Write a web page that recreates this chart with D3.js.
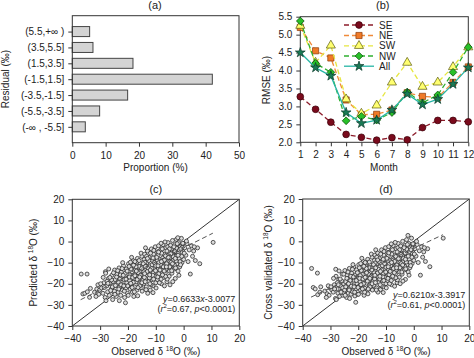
<!DOCTYPE html>
<html><head><meta charset="utf-8">
<script src="https://cdn.jsdelivr.net/npm/d3@7"></script>
<style>
html,body{margin:0;padding:0;background:#fff;}
svg text{font-family:"Liberation Sans",Arial,sans-serif;fill:#222;}
</style></head>
<body>
<svg id="chart" width="474" height="358"></svg>
<script>
// ---------- Panel (a) data ----------
const residualBins = ["(5.5,+\u221E )","(3.5,5.5]","(1.5,3.5]","(-1.5,1.5]","(-3.5,-1.5]","(-5.5,-3.5]","(-\u221E , -5.5]"];
const proportions = [5.2, 6.2, 18.2, 42.0, 16.6, 8.2, 3.9];
const proportionTicks = [0, 10, 20, 30, 40, 50];

// ---------- Panel (b) data ----------
const months = [1,2,3,4,5,6,7,8,9,10,11,12];
const rmseSE  = [3.27, 2.92, 2.56, 2.22, 2.14, 2.06, 2.13, 2.07, 2.41, 2.61, 2.61, 2.57];
const rmseNE  = [5.20, 4.55, 4.35, 3.18, 2.77, 2.78, 2.90, 3.38, 3.28, 3.25, 3.67, 4.10];
const rmseSW  = [5.25, 4.22, 4.70, 3.20, 2.80, 3.03, 3.67, 4.22, 3.55, 3.67, 4.10, 4.65];
const rmseNW  = [5.38, 4.20, 3.95, 2.60, 2.72, 2.62, 2.83, 3.40, 3.10, 3.32, 3.95, 4.65];
const rmseAll = [4.50, 4.08, 3.85, 2.83, 2.53, 2.62, 2.90, 3.35, 3.05, 3.20, 3.62, 4.08];
const regionNames = ["SE","NE","SW","NW","All"];
const rmseTicks = [2.0, 2.5, 3.0, 3.5, 4.0, 4.5, 5.0, 5.5];

// ---------- Panels (c),(d) data: [observed, predicted, cross-validated] ----------
const isotopeSamples = [
[-36.8,-15.4,-12.8],[-34.7,-15.4,-15.0],[-36.2,-24.8,-21.8],[-35.5,-24.5,-22.5],[-34.6,-23.8,-25.2],
[-33.5,-22.2,-21.5],[-33.8,-26.4,-24.0],[-32.0,-24.0,-23.5],[-31.2,-22.5,-24.8],[-30.5,-25.0,-25.5],
[-30.2,-23.0,-22.0],[-31.5,-26.0,-26.5],[-30.8,-20.5,-21.0],[-28.1,-14.3,-13.2],
[-29.5,-22.0,-23.0],[-29.0,-24.5,-24.0],[-28.6,-19.5,-20.5],[-28.2,-26.5,-27.0],[-28.0,-15.0,-16.5],
[-27.6,-21.0,-22.5],[-27.3,-23.8,-24.5],[-27.0,-17.5,-18.0],[-26.7,-25.5,-26.0],[-26.4,-20.0,-21.0],
[-26.0,-22.5,-23.5],[-25.8,-16.0,-15.5],[-25.5,-27.5,-25.5],[-25.3,-19.0,-20.0],[-25.1,-24.0,-24.5],
[-26.9,-13.0,-14.0],[-28.9,-17.0,-17.5],[-29.8,-20.0,-21.5],[-27.9,-28.0,-27.5],[-25.6,-21.5,-22.0],
[-24.8,-13.5,-13.8],[-24.6,-18.0,-19.0],[-24.4,-22.5,-23.2],[-24.2,-26.0,-26.5],[-24.0,-15.5,-16.0],
[-23.8,-20.0,-21.0],[-23.6,-24.0,-24.5],[-23.4,-17.0,-17.5],[-23.2,-12.5,-12.8],[-23.0,-21.5,-22.0],
[-22.8,-19.0,-19.8],[-22.6,-25.5,-25.0],[-22.4,-14.5,-15.0],[-22.2,-16.5,-17.2],[-22.0,-23.0,-23.8],
[-21.8,-20.5,-21.0],[-21.6,-11.5,-12.0],[-21.4,-18.0,-18.5],[-21.2,-26.5,-25.8],[-21.0,-15.0,-15.8],
[-20.8,-22.0,-22.5],[-20.6,-13.0,-13.5],[-20.4,-19.5,-20.0],[-20.2,-24.5,-25.0],[-20.0,-17.0,-17.5],
[-24.9,-23.5,-23.0],[-23.1,-28.0,-27.0],[-21.9,-10.0,-11.0],[-20.9,-29.0,-28.8],[-22.7,-15.8,-16.5],
[-19.8,-10.5,-11.0],[-19.6,-14.0,-14.8],[-19.4,-18.5,-19.0],[-19.2,-22.5,-23.0],[-19.0,-12.0,-12.5],
[-18.8,-16.0,-16.8],[-18.6,-20.0,-20.5],[-18.4,-24.0,-24.0],[-18.2,-9.0,-9.5],[-18.0,-13.5,-14.0],
[-17.8,-17.5,-18.0],[-17.6,-21.5,-22.2],[-17.4,-11.0,-11.5],[-17.2,-15.0,-15.5],[-17.0,-19.0,-19.8],
[-16.8,-23.0,-23.2],[-16.6,-8.0,-8.5],[-16.4,-12.5,-13.0],[-16.2,-16.5,-17.0],[-16.0,-20.5,-21.0],
[-15.8,-10.0,-10.8],[-15.6,-14.0,-14.5],[-15.4,-18.0,-18.5],[-15.2,-22.0,-22.5],[-15.0,-7.0,-7.5],
[-19.9,-25.5,-25.0],[-17.9,-26.0,-25.5],[-16.5,-25.7,-24.8],[-15.9,-11.8,-12.5],[-18.7,-7.5,-8.0],
[-19.3,-15.8,-16.2],[-17.3,-13.2,-13.8],[-16.1,-17.8,-18.5],[-15.3,-5.5,-6.0],[-18.1,-19.3,-20.0],
[-16.9,-9.8,-10.2],[-15.7,-21.0,-21.5],[-19.7,-20.8,-21.2],[-17.7,-23.8,-24.0],[-16.3,-14.8,-15.5],
[-14.8,-12.0,-12.5],[-14.6,-16.0,-16.5],[-14.4,-20.0,-20.8],[-14.2,-8.5,-9.0],[-14.0,-6.0,-6.5],
[-13.8,-13.5,-14.0],[-13.6,-17.5,-18.0],[-13.4,-21.5,-22.0],[-13.2,-10.0,-10.5],[-13.0,-4.5,-5.5],
[-12.8,-15.0,-15.5],[-12.6,-19.0,-19.5],[-12.4,-7.5,-8.0],[-12.2,-11.5,-12.0],[-12.0,-23.0,-22.8],
[-11.8,-14.0,-14.5],[-11.6,-3.5,-4.0],[-11.4,-18.0,-18.5],[-11.2,-9.0,-9.5],[-11.0,-21.0,-21.5],
[-10.8,-6.0,-6.5],[-10.6,-12.5,-13.0],[-10.4,-16.5,-17.0],[-10.2,-2.5,-3.0],[-10.0,-19.5,-20.0],
[-14.9,-23.5,-23.0],[-13.9,-9.8,-10.2],[-12.9,-24.5,-24.0],[-11.9,-5.5,-6.0],[-10.9,-14.8,-15.2],
[-14.3,-14.3,-14.8],[-13.3,-7.0,-7.5],[-12.3,-17.2,-17.8],[-11.3,-11.0,-11.5],[-10.3,-8.2,-8.8],
[-14.7,-18.5,-19.0],[-13.7,-3.0,-4.0],[-12.7,-12.8,-13.2],[-11.7,-20.5,-21.0],[-10.7,-4.2,-4.8],
[-11.0,-24.2,-24.2],[-13.5,-22.8,-23.0],
[-9.8,-10.5,-11.0],[-9.6,-14.5,-15.0],[-9.4,-18.0,-18.5],[-9.2,-6.5,-7.0],[-9.0,-2.0,-2.5],
[-8.8,-12.0,-12.5],[-8.6,-16.0,-16.5],[-8.4,-8.5,-9.0],[-8.2,-4.0,-4.5],[-8.0,-20.0,-20.5],
[-7.8,-13.5,-14.0],[-7.6,-10.0,-10.5],[-7.4,-1.5,-2.0],[-7.2,-17.0,-17.5],[-7.0,-6.0,-6.5],
[-6.8,-11.5,-12.0],[-6.6,-15.0,-15.5],[-6.4,-3.0,-3.5],[-6.2,-8.0,-8.5],[-6.0,-19.0,-19.5],
[-5.8,-12.5,-13.0],[-5.6,-0.5,-1.0],[-5.4,-5.0,-5.5],[-5.2,-16.5,-17.0],[-5.0,-9.5,-10.0],
[-9.9,-22.0,-22.0],[-9.3,-4.8,-5.2],[-8.7,-19.5,-20.0],[-8.1,-0.8,-1.2],[-7.5,-7.8,-8.2],
[-6.9,-21.0,-21.2],[-6.3,-13.0,-13.5],[-5.7,-2.5,-3.0],[-5.1,-14.0,-14.5],[-9.5,-9.0,-9.5],
[-8.9,-15.2,-15.8],[-8.3,-11.0,-11.5],[-7.7,-3.5,-4.0],[-7.1,-9.2,-9.8],[-6.5,-6.8,-7.2],
[-5.9,-17.8,-18.2],[-5.3,-11.0,-11.5],[-4.9,-20.5,-20.0],[-9.1,-13.0,-13.5],[-6.7,-0.2,-0.5],
[-4.8,-7.5,-8.0],[-4.6,-11.5,-12.0],[-4.4,-3.5,-4.0],[-4.2,-15.0,-15.5],[-4.0,0.5,0.0],
[-3.8,-9.0,-9.5],[-3.6,-5.5,-6.0],[-3.4,-13.0,-13.5],[-3.2,-1.5,-2.0],[-3.0,-17.5,-18.0],
[-2.8,-7.0,-7.5],[-2.6,1.0,0.8],[-2.4,-10.5,-11.0],[-2.2,-4.0,-4.5],[-2.0,-14.0,-14.5],
[-1.8,-0.5,-1.0],[-1.6,-8.0,-8.5],[-1.4,-12.0,-12.5],[-1.2,-2.5,-3.0],[-1.0,-6.0,-6.5],
[-0.8,1.5,1.5],[-0.6,-10.0,-10.5],[-0.4,-4.5,-5.0],[-0.2,-1.0,-1.5],[0.0,-8.5,-9.0],
[-4.7,-1.8,-2.2],[-3.9,-19.0,-18.8],[-3.3,-11.2,-11.8],[-2.5,-3.2,-3.8],[-1.7,-16.0,-16.0],
[-0.9,-5.0,-5.5],[-4.1,-6.2,-6.8],[-2.9,-12.5,-13.0],[-2.1,1.8,2.8],[-1.3,-9.5,-10.0],
[-0.5,-2.8,-3.2],[-3.5,-2.5,-3.0],[-1.9,-5.5,-6.0],
[0.4,-3.0,-3.5],[0.8,-6.5,-7.0],[1.2,-1.0,-1.5],[1.6,-9.5,-10.0],[2.0,-4.0,-4.5],
[2.4,-15.4,-16.0],[2.8,-2.0,-2.5],[3.2,-7.0,-7.5],[3.6,-4.5,-5.0],[4.2,-9.0,-9.5],
[5.0,-3.0,-3.5],[5.8,-10.5,-12.0],[1.0,0.2,0.0],[10.6,-0.4,1.5],[3.8,-2.5,-3.0],
[-27.5,-18.8,-19.5],[-26.2,-23.2,-24.0],[-25.9,-18.2,-18.8],[-25.2,-14.8,-15.5],[-24.5,-20.8,-21.5],
[-24.1,-16.8,-17.5],[-23.7,-13.8,-14.5],[-23.3,-22.5,-23.0],[-22.9,-17.8,-18.5],[-22.5,-20.5,-21.2],
[-22.1,-12.8,-13.2],[-21.7,-16.0,-16.8],[-21.3,-23.5,-24.0],[-20.7,-17.8,-18.5],[-20.3,-14.0,-14.8],
[-20.1,-21.0,-21.8],[-19.5,-16.8,-17.5],[-19.1,-9.8,-10.5],[-18.9,-13.0,-13.8],[-18.5,-21.8,-22.5],
[-18.3,-17.0,-17.8],[-17.5,-9.5,-10.0],[-17.1,-12.0,-12.8],[-16.7,-18.0,-18.8],[-16.4,-21.8,-22.5],
[-15.5,-16.0,-16.8],[-15.1,-12.8,-13.5],[-14.5,-10.5,-11.0],[-14.1,-17.0,-17.8],[-13.7,-11.8,-12.5],
[-13.1,-14.2,-15.0],[-12.5,-9.0,-9.5],[-12.1,-20.0,-20.5],[-11.5,-12.8,-13.5],[-11.1,-16.0,-16.8],
[-10.5,-10.0,-10.5],[-10.1,-13.8,-14.5],[-9.7,-7.5,-8.0],[-9.3,-16.8,-17.5],[-8.9,-10.0,-10.8],
[-8.5,-13.5,-14.2],[-8.1,-17.8,-18.5],[-7.9,-5.5,-6.0],[-7.3,-12.0,-12.8],[-6.9,-8.8,-9.5],
[-6.5,-16.5,-17.2],[-6.1,-10.5,-11.2],[-5.5,-7.5,-8.2],[-5.1,-3.5,-4.0],[-4.5,-9.8,-10.5],
[-4.3,-13.8,-14.5],[-3.7,-7.2,-8.0],[-3.1,-4.8,-5.5],[-2.7,-9.2,-9.8],[-2.3,-1.0,-1.5],
[-1.5,-4.0,-4.8],[-1.1,-11.0,-11.5],[-0.7,-7.0,-7.5],[-0.3,-0.8,-1.2],[0.2,-5.5,-6.0],
[-26.5,-17.0,-17.8],[-24.7,-25.0,-25.5],[-23.5,-19.2,-20.0],[-21.5,-21.0,-21.5],[-19.6,-11.8,-12.5],
[-18.0,-11.2,-11.8],[-17.0,-14.0,-14.8],[-16.0,-9.0,-9.8],[-15.0,-19.5,-20.0],[-14.0,-15.2,-16.0],
[-13.0,-8.0,-8.8],[-12.0,-13.5,-14.2],[-11.0,-7.8,-8.5],[-10.0,-11.5,-12.2],[-9.0,-5.0,-5.5],
[-8.0,-9.5,-10.0],[-7.0,-14.0,-14.8],[-6.0,-4.5,-5.0],[-5.0,-12.0,-12.5],[-4.0,-10.5,-11.2],
[-3.0,-8.0,-8.5],[-2.0,-6.5,-7.0],[-1.0,-3.5,-4.0],[-28.5,-21.8,-22.5],[-27.2,-19.8,-20.5],
[-19.0,-19.8,-20.5],[-17.5,-16.2,-17.0],[-15.8,-16.8,-17.5],[-13.8,-19.0,-19.5],[-12.2,-15.8,-16.5],
[-10.8,-17.8,-18.5],[-9.2,-11.5,-12.0],[-7.6,-15.8,-16.5],[-6.2,-12.0,-12.5],[-4.6,-5.8,-6.2]
];
const isoTicks = [-40, -30, -20, -10, 0, 10, 20];
const fitC = {slope: 0.6633, intercept: -3.0077, x0: -37, x1: 10.5};
const fitD = {slope: 0.6210, intercept: -3.3917, x0: -37, x1: 10.5};

// ---------- drawing ----------
const svg = d3.select("#chart");
const AX = "#333";
const FS = 10;

function frame(g, x0, y0, x1, y1){
  g.append("rect").attr("x",x0).attr("y",y0).attr("width",x1-x0).attr("height",y1-y0)
   .attr("fill","none").attr("stroke",AX).attr("stroke-width",1);
}
function styleAxis(sel){
  sel.select(".domain").remove();
  sel.selectAll(".tick line").attr("stroke",AX);
  sel.selectAll(".tick text").attr("font-size",FS).attr("fill","#222")
     .attr("font-family","Liberation Sans, Arial, sans-serif");
}
function title(txt, x, y){
  svg.append("text").attr("x",x).attr("y",y).attr("text-anchor","middle").attr("font-size",11).text(txt);
}

// ===== (a) =====
{
  const x = d3.scaleLinear().domain([0,50]).range([72.3,239]);
  const y = d3.scaleLinear().domain([0,8]).range([15.7,142.7]);
  const g = svg.append("g");
  g.selectAll("rect.bar").data(proportions).join("rect").attr("class","bar")
    .attr("x",x(0)).attr("y",(d,i)=>y(i+1)-5).attr("width",d=>x(d)-x(0)).attr("height",10)
    .attr("fill","#d4d4d4").attr("stroke","#444").attr("stroke-width",1);
  frame(g, x(0), y(0), x(50), y(8));
  const xa = g.append("g").attr("transform",`translate(0,${y(8)})`)
    .call(d3.axisBottom(x).tickValues(proportionTicks).tickSize(4).tickPadding(5).tickSizeOuter(0));
  styleAxis(xa);
  const ya = g.append("g").attr("transform",`translate(${x(0)},0)`)
    .call(d3.axisLeft(y).tickValues(d3.range(1,8)).tickFormat(d=>residualBins[d-1]).tickSize(4).tickPadding(4).tickSizeOuter(0));
  styleAxis(ya);
  title("(a)", 155, 9);
  g.append("text").attr("x",155.5).attr("y",171).attr("text-anchor","middle").attr("font-size",FS).text("Proportion (%)");
  g.append("text").attr("transform","translate(9,79) rotate(-90)").attr("text-anchor","middle").attr("font-size",FS).text("Residual (\u2030)");
}

// ===== (b) =====
{
  const x = d3.scaleLinear().domain([1,12]).range([300.3,468.3]);
  const y = d3.scaleLinear().domain([2,5.5]).range([142.3,16.7]);
  const g = svg.append("g");
  frame(g, x(1), y(5.5), x(12), y(2));
  const xa = g.append("g").attr("transform",`translate(0,${y(2)})`)
    .call(d3.axisBottom(x).tickValues(months).tickFormat(d3.format("d")).tickSize(4).tickPadding(5).tickSizeOuter(0));
  styleAxis(xa);
  const ya = g.append("g").attr("transform",`translate(${x(1)},0)`)
    .call(d3.axisLeft(y).tickValues(rmseTicks).tickFormat(d3.format(".1f")).tickSize(4).tickPadding(4).tickSizeOuter(0));
  styleAxis(ya);
  title("(b)", 382.7, 9);
  g.append("text").attr("x",384).attr("y",171).attr("text-anchor","middle").attr("font-size",FS).text("Month");
  g.append("text").attr("transform","translate(270,80) rotate(-90)").attr("text-anchor","middle").attr("font-size",FS).text("RMSE (\u2030)");

  const series = [
    {name:"SE", vals:rmseSE, line:"#8c1c2a", fill:"#7a0a1c", stroke:"#3a0008", sym:d3.symbolCircle, size:36, dash:"5,3", rot:0},
    {name:"NE", vals:rmseNE, line:"#f08a3a", fill:"#f07a28", stroke:"#8a3a08", sym:d3.symbolSquare, size:38, dash:"5,3", rot:0},
    {name:"SW", vals:rmseSW, line:"#e6e640", fill:"#ffff70", stroke:"#5a5a10", sym:d3.symbolTriangle, size:36, dash:"5,3", rot:0},
    {name:"NW", vals:rmseNW, line:"#30b030", fill:"#28c028", stroke:"#0a4a0a", sym:d3.symbolSquare, size:30, dash:"5,3", rot:45},
    {name:"All",vals:rmseAll,line:"#26b5a5", fill:"#1a7a55", stroke:"#0a3a2a", sym:d3.symbolStar, size:30, dash:null, rot:0}
  ];
  const line = d3.line().x((d,i)=>x(months[i])).y(d=>y(d));
  series.forEach(s=>{
    g.append("path").attr("d",line(s.vals)).attr("fill","none").attr("stroke",s.line)
      .attr("stroke-width",1.3).attr("stroke-dasharray",s.dash);
    g.selectAll(null).data(s.vals).join("path")
      .attr("d",d3.symbol().type(s.sym).size(s.size))
      .attr("transform",(d,i)=>`translate(${x(months[i])},${y(d)}) rotate(${s.rot})`)
      .attr("fill",s.fill).attr("stroke",s.stroke).attr("stroke-width",0.7);
  });
  // legend
  const ly = [25, 35.5, 45.8, 56, 66.2];
  series.forEach((s,i)=>{
    g.append("line").attr("x1",344).attr("x2",374).attr("y1",ly[i]).attr("y2",ly[i])
      .attr("stroke",s.line).attr("stroke-width",1.3).attr("stroke-dasharray",s.dash);
    g.append("path").attr("d",d3.symbol().type(s.sym).size(s.size))
      .attr("transform",`translate(359,${ly[i]}) rotate(${s.rot})`)
      .attr("fill",s.fill).attr("stroke",s.stroke).attr("stroke-width",0.7);
    g.append("text").attr("x",379).attr("y",ly[i]+3.5).attr("font-size",FS).text(regionNames[i]);
  });
}

// ===== (c) & (d) =====
function scatterPanel(opts){
  const x = d3.scaleLinear().domain([-40,20]).range([opts.x0,opts.x1]);
  const y = d3.scaleLinear().domain([-40,20]).range([opts.y1,opts.y0]);
  const g = svg.append("g");
  const clipId = "clip"+opts.tag;
  g.append("clipPath").attr("id",clipId).append("rect")
    .attr("x",opts.x0).attr("y",opts.y0).attr("width",opts.x1-opts.x0).attr("height",opts.y1-opts.y0);
  const inner = g.append("g").attr("clip-path",`url(#${clipId})`);
  // 1:1 line
  inner.append("line").attr("x1",x(-40)).attr("y1",y(-40)).attr("x2",x(20)).attr("y2",y(20))
    .attr("stroke","#333").attr("stroke-width",1);
  inner.selectAll("circle").data(isotopeSamples).join("circle")
    .attr("cx",d=>x(d[0])).attr("cy",d=>y(d[opts.col])).attr("r",2)
    .attr("fill","#dcdcdc").attr("stroke","#2e2e2e").attr("stroke-width",0.8);
  const f = opts.fit;
  inner.append("line").attr("x1",x(f.x0)).attr("y1",y(f.slope*f.x0+f.intercept))
    .attr("x2",x(f.x1)).attr("y2",y(f.slope*f.x1+f.intercept))
    .attr("stroke","#555").attr("stroke-width",1).attr("stroke-dasharray","5,3");
  frame(g, opts.x0, opts.y0, opts.x1, opts.y1);
  const xa = g.append("g").attr("transform",`translate(0,${opts.y1})`)
    .call(d3.axisBottom(x).tickValues(isoTicks).tickSize(4).tickPadding(5).tickSizeOuter(0));
  styleAxis(xa);
  const ya = g.append("g").attr("transform",`translate(${opts.x0},0)`)
    .call(d3.axisLeft(y).tickValues(isoTicks).tickSize(4).tickPadding(4).tickSizeOuter(0));
  styleAxis(ya);
  title(opts.title, (opts.x0+opts.x1)/2, opts.y0-6);
  // x label
  const xl = g.append("text").attr("x",(opts.x0+opts.x1)/2).attr("y",opts.y1+29).attr("text-anchor","middle").attr("font-size",FS);
  xl.append("tspan").text("Observed \u03B4 ");
  xl.append("tspan").attr("font-size",6.5).attr("dy",-4).text("18");
  xl.append("tspan").attr("dy",4).text("O (\u2030)");
  // y label
  const yl = g.append("text").attr("transform",`translate(${opts.ylabX},${(opts.y0+opts.y1)/2}) rotate(-90)`)
    .attr("text-anchor","middle").attr("font-size",FS);
  yl.append("tspan").text(opts.ylab+" \u03B4 ");
  yl.append("tspan").attr("font-size",6.5).attr("dy",-4).text("18");
  yl.append("tspan").attr("dy",4).text("O (\u2030)");
  // equation
  const ex = opts.x1 - 4;
  const t1 = g.append("text").attr("x",ex).attr("y",opts.eqY).attr("text-anchor","end").attr("font-size",9);
  t1.append("tspan").attr("font-style","italic").text("y");
  t1.append("tspan").text("="+opts.eq[0]);
  t1.append("tspan").attr("font-style","italic").text("x");
  t1.append("tspan").text(opts.eq[1]);
  const t2 = g.append("text").attr("x",ex).attr("y",opts.eqY+9.5).attr("text-anchor","end").attr("font-size",9);
  t2.append("tspan").text("(");
  t2.append("tspan").attr("font-style","italic").text("r");
  t2.append("tspan").attr("font-size",6).attr("dy",-3.5).text("2");
  t2.append("tspan").attr("dy",3.5).text("="+opts.r2+", ");
  t2.append("tspan").attr("font-style","italic").text("p");
  t2.append("tspan").text("<0.0001)");
}
scatterPanel({tag:"c", x0:72.3, x1:239.3, y0:199.3, y1:326, col:1, fit:fitC, title:"(c)",
  ylab:"Predicted", ylabX:37, eq:["0.6633","-3.0077"], r2:"0.67", eqY:302});
scatterPanel({tag:"d", x0:302.7, x1:469.3, y0:199, y1:326, col:2, fit:fitD, title:"(d)",
  ylab:"Cross validated", ylabX:272, eq:["0.6210","-3.3917"], r2:"0.61", eqY:298});
</script>
</body></html>
